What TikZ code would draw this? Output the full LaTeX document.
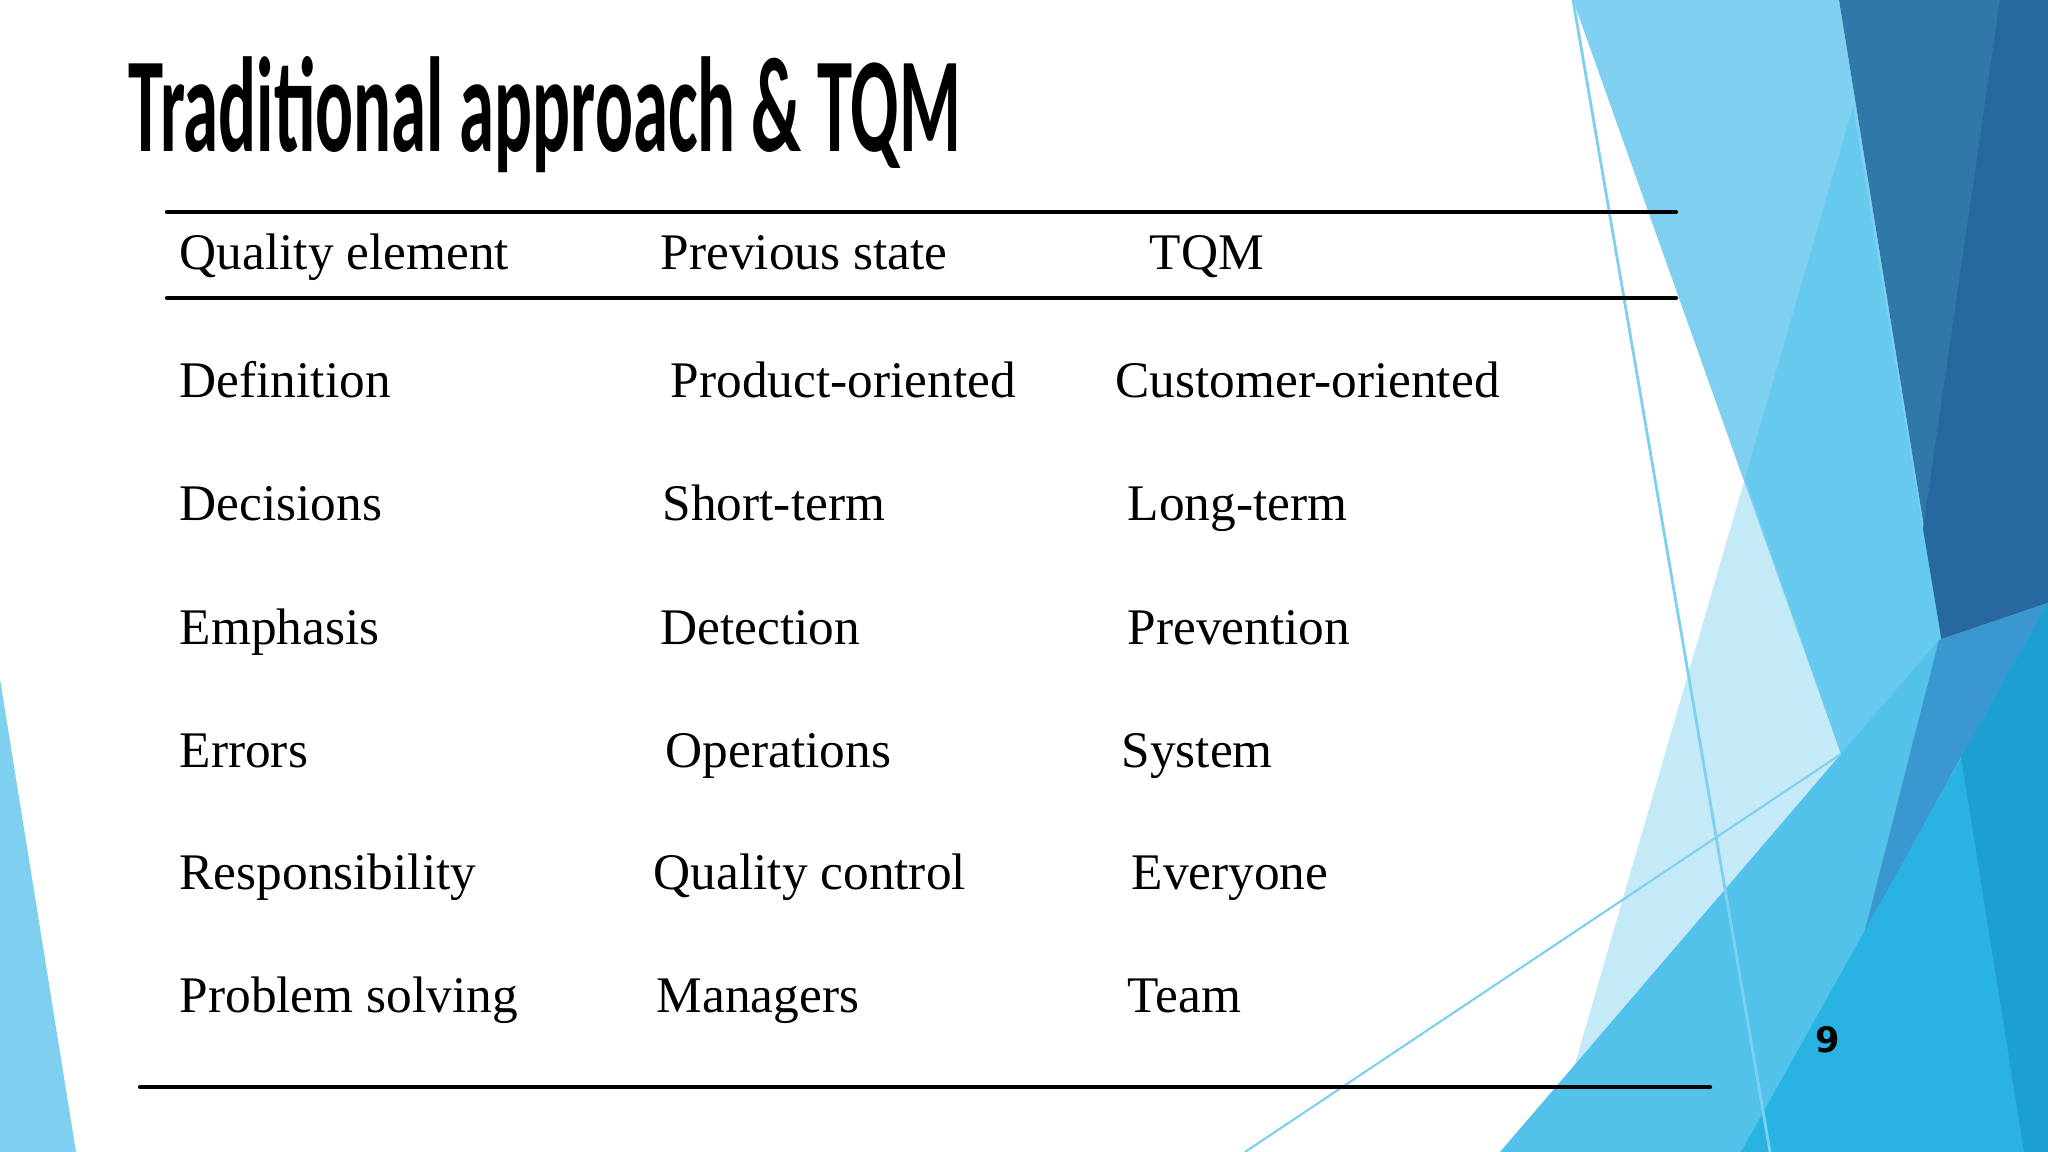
\documentclass[tikz,border=0pt]{standalone}
\usepackage{fontspec}
\setmainfont{Liberation Serif}
\newfontfamily\titlefont{Carlito}
\newfontfamily\numfont{DejaVu Sans}
\definecolor{cpale}{RGB}{196,234,248}
\definecolor{clight}{RGB}{127,208,240}
\definecolor{cmed}{RGB}{102,201,238}
\definecolor{cdark}{RGB}{47,120,168}
\definecolor{cdarker}{RGB}{40,104,160}
\definecolor{cbot}{RGB}{82,194,234}
\definecolor{cmid}{RGB}{58,151,207}
\definecolor{cbright}{RGB}{41,179,227}
\definecolor{cdeep}{RGB}{29,159,212}
\begin{document}
\begin{tikzpicture}[x=0.01cm,y=-0.01cm,
  cell/.style={anchor=base west,inner sep=0,font=\fontsize{14.6}{17}\selectfont},
  rule/.style={line width=1.2pt,line cap=round}]
\useasboundingbox (0,0) rectangle (2048,1152);
\fill[white] (0,0) rectangle (2048,1152);
% decorations
\fill[cpale] (1745,478)--(1841,754)--(1700,1152)--(1520,1152)--(1570,1081)--cycle;
\fill[clight] (1573,0)--(1839,0)--(1961,757)--(1841,754)--cycle;
\fill[cmed] (1853,107)--(1923,529)--(1961,757)--(1841,754)--(1745,478)--cycle;
\fill[cdark] (1839,0)--(2048,0)--(2048,603)--(1961,757)--cycle;
\fill[cdarker] (2000,0)--(2048,0)--(2048,603)--(1961,757)--(1923,529)--cycle;
\fill[cbot] (1500,1152)--(1841,754)--(1939,640)--(2048,603)--(2048,1152)--cycle;
\fill[cmid] (1939,640)--(2048,603)--(1961,757)--(1864,934)--cycle;
\fill[cbright] (1741,1152)--(2048,603)--(2048,1152)--cycle;
\fill[cdeep] (1961,757)--(2048,603)--(2048,1152)--(2024,1152)--cycle;
\draw[clight,line width=0.8pt] (1573,0)--(1770,1152);
\draw[clight,line width=0.6pt] (1245,1152)--(1841,754);
\fill[clight] (0,679)--(76,1152)--(0,1152)--cycle;
% title
\node[anchor=base west,inner sep=0] (title) at (128,152) {\resizebox{8.32cm}{0.95cm}{\titlefont\bfseries Traditional approach \& TQM}};
% rules
\coordinate (r1a) at (167,212); \coordinate (r1b) at (1676,212);
\coordinate (r2a) at (167,298); \coordinate (r2b) at (1676,298);
\coordinate (r3a) at (140,1087); \coordinate (r3b) at (1710,1087);
\draw[rule] (r1a)--(r1b);
\draw[rule] (r2a)--(r2b);
\draw[rule] (r3a)--(r3b);
% table
\node[cell] (h1) at (179,270) {Quality element};
\node[cell] (h2) at (660,270) {Previous state};
\node[cell] (h3) at (1149,270) {TQM};
\node[cell] (a1) at (179,398) {Definition};
\node[cell] (a2) at (670,398) {Product-oriented};
\node[cell] (a3) at (1115,398) {Customer-oriented};
\node[cell] (b1) at (179,521) {Decisions};
\node[cell] (b2) at (662,521) {Short-term};
\node[cell] (b3) at (1127,521) {Long-term};
\node[cell] (c1) at (179,644) {Emphasis};
\node[cell] (c2) at (660,644) {Detection};
\node[cell] (c3) at (1127,644) {Prevention};
\node[cell] (d1) at (179,767) {Errors};
\node[cell] (d2) at (665,767) {Operations};
\node[cell] (d3) at (1121,767) {System};
\node[cell] (e1) at (179,889) {Responsibility};
\node[cell] (e2) at (653,889) {Quality control};
\node[cell] (e3) at (1131,889) {Everyone};
\node[cell] (f1) at (179,1012) {Problem solving};
\node[cell] (f2) at (656,1012) {Managers};
\node[cell] (f3) at (1127,1012) {Team};
\node[inner sep=0,font=\numfont\bfseries\fontsize{10}{12}\selectfont] (pg) at (1828,1040) {9};
\end{tikzpicture}
\end{document}
